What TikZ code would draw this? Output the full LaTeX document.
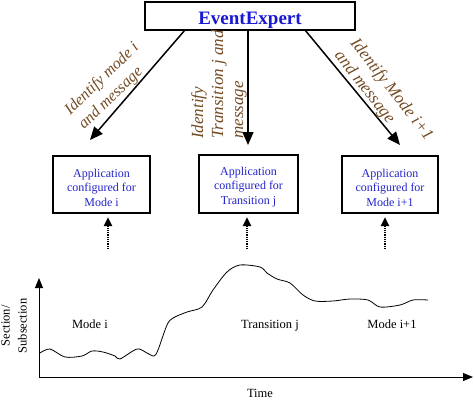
\documentclass[tikz,border=0pt]{standalone}
\usepackage{fontspec}
\setmainfont{Liberation Serif}
\usetikzlibrary{arrows.meta,calc}
\definecolor{lblbrown}{RGB}{115,75,35}
\definecolor{boxblue}{RGB}{35,35,200}
\definecolor{eeblue}{RGB}{25,25,210}
\begin{document}
\begin{tikzpicture}[x=1pt,y=-1pt,
  frame/.style={draw, line width=1.6pt, inner sep=0pt},
  apptext/.style={text=boxblue, font=\fontsize{12}{14.5}\selectfont, align=center, inner sep=0pt},
  lbl/.style={text=lblbrown, inner sep=0pt, align=left, anchor=base west},
  bigarrow/.style={line width=1.5pt, -{Triangle[length=13pt,width=11pt]}},
  dotarrow/.style={line width=2.4pt, dash pattern=on 1pt off 0.8pt, -{Triangle[length=9pt,width=8pt]}},
  axisline/.style={line width=0.9pt, -{Triangle[length=10pt,width=8pt]}},
  plaintext/.style={font=\fontsize{12.5}{15}\selectfont, inner sep=0pt}
]
\useasboundingbox (0,0) rectangle (474,400);

% top box
\node[frame, line width=1.5pt, minimum width=210, minimum height=28] (ee) at (250,16) {};
\node[anchor=base, text=eeblue, font=\fontsize{19}{22}\selectfont\bfseries, inner sep=0pt] (eet) at (250,24.5) {EventExpert};

% application boxes
\node[frame, minimum width=97, minimum height=57] (b1) at (101.5,184.5) {};
\node[frame, minimum width=99, minimum height=58] (b2) at (248.5,184) {};
\node[frame, minimum width=96, minimum height=57] (b3) at (390,184.5) {};
\node[apptext] (t1) at ($(b1.center)+(0,3)$) {Application\\configured for\\Mode i};
\node[apptext] (t2) at ($(b2.center)+(0,3)$) {Application\\configured for\\Transition j};
\node[apptext] (t3) at ($(b3.center)+(0,3)$) {Application\\configured for\\Mode i+1};

% big arrows
\coordinate (a1s) at (185,30);
\coordinate (a1e) at (90,140);
\coordinate (a2s) at (248,30);
\coordinate (a2e) at (248,145);
\coordinate (a3s) at (305,30);
\coordinate (a3e) at (400,145);
\draw[bigarrow] (a1s) -- (a1e);
\draw[bigarrow] (a2s) -- (a2e);
\draw[bigarrow] (a3s) -- (a3e);

% arrow labels (anchor = baseline of last line)
\node[lbl, rotate=44, font=\fontsize{16}{20}\selectfont\itshape] (l1) at (84,130) {Identify mode i\\and message};
\node[lbl, rotate=90, font=\fontsize{17}{20}\selectfont\itshape] (l2) at (243,139) {Identify\\Transition j and\\message};
\node[lbl, rotate=-52, font=\fontsize{17}{20}\selectfont\itshape] (l3) at (334,55.5) {Identify Mode i+1\\and message};

% dotted arrows
\coordinate (d1s) at (108,249);
\coordinate (d1e) at (108,217);
\coordinate (d2s) at (247,249);
\coordinate (d2e) at (247,217);
\coordinate (d3s) at (385,249);
\coordinate (d3e) at (385,217);
\draw[dotarrow] (d1s) -- (d1e);
\draw[dotarrow] (d2s) -- (d2e);
\draw[dotarrow] (d3s) -- (d3e);

% axes
\coordinate (org) at (39,377);
\coordinate (ytop) at (39,278);
\coordinate (xend) at (473,377);
\draw[axisline] (org) -- (ytop);
\draw[axisline] (org) -- (xend);
\node[plaintext, anchor=base] (time) at (260,397.5) {Time};
\node[plaintext, rotate=90, align=center, font=\fontsize{12.5}{17}\selectfont] (sec) at (14,326) {Section/\\Subsection};

% curve
\draw[line width=0.8pt] plot[smooth, tension=0.5] coordinates {
(40,353) (50,349) (65,357) (82,356) (92,351) (103,352) (115,356) (120,359)
(137,349) (147,353) (154,356) (158,350) (167,325) (173,318) (187,312) (202,307)
(213,290) (227,272) (240,265) (260,267) (267,273) (277,279) (290,283) (303,295)
(315,301) (333,301) (350,299) (368,300) (380,307) (400,305) (413,300) (428,300)};

\node[plaintext, anchor=base] (m1) at (90,328) {Mode i};
\node[plaintext, anchor=base] (tj) at (270,328) {Transition j};
\node[plaintext, anchor=base] (m2) at (392,328) {Mode i+1};
\end{tikzpicture}
\end{document}
